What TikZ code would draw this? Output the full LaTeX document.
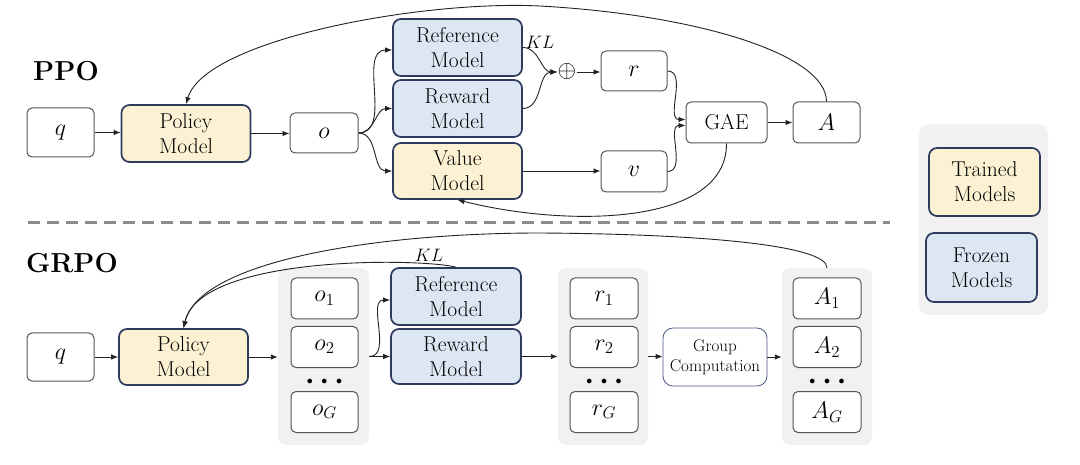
\RequirePackage{fix-cm}
\documentclass[tikz,border=0pt]{standalone}
\usetikzlibrary{arrows.meta,calc}
\definecolor{yel}{HTML}{FCF2D3}
\definecolor{blu}{HTML}{DDE7F4}
\definecolor{navy}{HTML}{2C3B5E}
\definecolor{boxgray}{HTML}{555555}
\definecolor{grpbg}{HTML}{F1F1F1}
\definecolor{dashgray}{HTML}{8C8C8C}
\definecolor{linec}{HTML}{222222}
\definecolor{gcblue}{HTML}{4A5A82}
\tikzset{
  plain/.style={draw=boxgray, line width=1pt, rounded corners=5pt, fill=white, inner sep=0pt,
    font=\fontsize{24}{28}\selectfont},
  plainsm/.style={plain, minimum width=67pt, minimum height=41pt},
  model/.style={draw=navy, line width=1.7pt, rounded corners=8pt, inner sep=0pt, align=center,
    font=\fontsize{21.5}{25}\selectfont, minimum width=129pt, minimum height=57pt},
  trained/.style={model, fill=yel},
  frozen/.style={model, fill=blu},
  grp/.style={fill=grpbg, rounded corners=8pt, minimum width=91pt, minimum height=177pt, inner sep=0pt},
  conn/.style={draw=linec, line width=0.9pt, -{Latex[length=7pt,width=5.5pt]}},
  title/.style={font=\fontsize{27.5}{32}\selectfont\bfseries, inner sep=0pt},
  klabel/.style={font=\fontsize{18}{20}\selectfont, inner sep=0pt},
  dotsnode/.style={font=\fontsize{12}{14}\selectfont, inner sep=0pt},
}
\newcommand{\threedots}{$\bullet\hspace{6pt}\bullet\hspace{6pt}\bullet$}
\begin{document}
\begin{tikzpicture}[x=1pt,y=-1pt]
\useasboundingbox (0,0) rectangle (1080,465);

% ---------------- PPO ----------------
\node[title] (ppo) at (66,71) {PPO};
\node[plain, minimum width=67pt, minimum height=49pt] (q1) at (60.5,132.5) {$q$};
\node[trained] (pol1) at (186,133.5) {Policy\\Model};
\node[plain, minimum width=68pt, minimum height=40pt] (o) at (324,133) {$o$};
\node[frozen] (ref1) at (457.5,47.5) {Reference\\Model};
\node[frozen] (rew1) at (457.5,108.5) {Reward\\Model};
\node[trained, minimum height=56pt] (val1) at (457.5,171) {Value\\Model};
\node[klabel] (kl1) at (540,42) {$KL$};
\node[font=\fontsize{24}{28}\selectfont, inner sep=0pt] (oplus) at (567,72) {$\oplus$};
\node[plain, minimum width=66pt, minimum height=40pt] (r) at (634,71) {$r$};
\node[plain, minimum width=66pt, minimum height=41pt] (v) at (634,171.5) {$v$};
\node[plain, minimum width=81pt, minimum height=41pt, font=\fontsize{21.5}{25}\selectfont] (gae) at (726.5,122.5) {GAE};
\node[plain, minimum width=67pt, minimum height=41pt] (A) at (826.5,122.5) {$A$};

\draw[conn] (q1.east) -- (q1.east -| pol1.west);
\draw[conn] (pol1.east) -- (pol1.east -| o.west);
\draw[conn] (o.east) to[out=0,in=180] ($(ref1.west)+(0,2.5)$);
\draw[conn] (o.east) to[out=0,in=180] (rew1.west);
\draw[conn] (o.east) to[out=0,in=180] (val1.west);
\draw[conn] (ref1.east) to[out=0,in=180] (oplus.west);
\draw[conn] (rew1.east) to[out=0,in=180] (oplus.west);
\draw[conn] (oplus.east) -- (oplus.east -| r.west);
\draw[conn] (val1.east) -- (val1.east -| v.west);
\draw[conn] (r.east) to[out=0,in=180] ($(gae.west)+(0,-3)$);
\draw[conn] (v.east) to[out=0,in=180] ($(gae.west)+(0,3)$);
\draw[conn] (gae.east) -- (gae.east -| A.west);
\draw[conn] (A.north) .. controls (826.5,55) and (700,15) .. (540,6)
   .. controls (420,0) and (205,40) .. (pol1.north);
\draw[conn] (gae.south) .. controls (727,225) and (570,228) .. (val1.south);

% ---------------- separator ----------------
\coordinate (sepL) at (28,223);
\coordinate (sepR) at (890,223);
\draw[dashgray, line width=3pt, dash pattern=on 12pt off 7pt] (sepL) -- (sepR);

% ---------------- GRPO ----------------
\node[title] (grpo) at (72,263.5) {GRPO};
\node[plain, minimum width=67pt, minimum height=48pt] (q2) at (60.5,357) {$q$};
\node[trained, minimum height=56pt] (pol2) at (183.5,357) {Policy\\Model};

\node[grp] (og) at (323.5,356.5) {};
\node[plainsm] (o1) at (324.5,298.5) {$o_1$};
\node[plainsm] (o2) at (324.5,347) {$o_2$};
\node[dotsnode] (od) at (324.5,382) {\threedots};
\node[plainsm] (oG) at (324.5,412) {$o_G$};

\node[frozen, minimum width=130pt] (ref2) at (456,296.5) {Reference\\Model};
\node[frozen, minimum width=130pt, minimum height=55pt] (rew2) at (456,356.5) {Reward\\Model};
\node[klabel] (kl2) at (429,255) {$KL$};

\node[grp, minimum width=90pt] (rg) at (603,356.5) {};
\node[plainsm, minimum width=68pt] (r1) at (604,298.5) {$r_1$};
\node[plainsm, minimum width=68pt] (r2) at (604,347) {$r_2$};
\node[dotsnode] (rd) at (604,382) {\threedots};
\node[plainsm, minimum width=68pt] (rG) at (604,412) {$r_G$};

\node[draw=gcblue, line width=0.8pt, rounded corners=10pt, fill=white, minimum width=104pt,
  minimum height=58pt, align=center, inner sep=0pt, font=\fontsize{17}{20}\selectfont]
  (gc) at (715,357) {Group\\Computation};

\node[grp, minimum width=90pt] (ag) at (827,356.5) {};
\node[plainsm, minimum width=68pt] (A1) at (827,298.5) {$A_1$};
\node[plainsm, minimum width=68pt] (A2) at (827,347) {$A_2$};
\node[dotsnode] (Ad) at (827,382) {\threedots};
\node[plainsm, minimum width=68pt] (AG) at (827,412) {$A_G$};

\draw[conn] (q2.east) -- (q2.east -| pol2.west);
\draw[conn] (pol2.east) -- (pol2.east -| og.west);
\draw[conn] (og.east) -- (og.east -| rew2.west);
\draw[conn] (og.east) to[out=0,in=180] ($(ref2.west)+(0,3.5)$);
\draw[conn] (rew2.east) -- (rew2.east -| rg.west);
\draw[conn] (rg.east) -- (rg.east -| gc.west);
\draw[conn] (gc.east) -- (gc.east -| ag.west);
\draw[conn] (ref2.north) .. controls (420,258) and (200,255) .. (pol2.north);
\draw[conn] (ag.north) .. controls (827,245) and (700,234) .. (540,233)
   .. controls (380,233) and (200,260) .. (pol2.north);

% ---------------- legend ----------------
\node[fill=grpbg, rounded corners=10pt, minimum width=129pt, minimum height=191pt, inner sep=0pt] (leg) at (983.5,219.5) {};
\node[trained, minimum width=111pt, minimum height=68pt] (lt) at (984.5,182) {Trained\\Models};
\node[frozen, minimum width=111pt, minimum height=69pt] (lf) at (981.5,267.5) {Frozen\\Models};
\end{tikzpicture}
\end{document}
